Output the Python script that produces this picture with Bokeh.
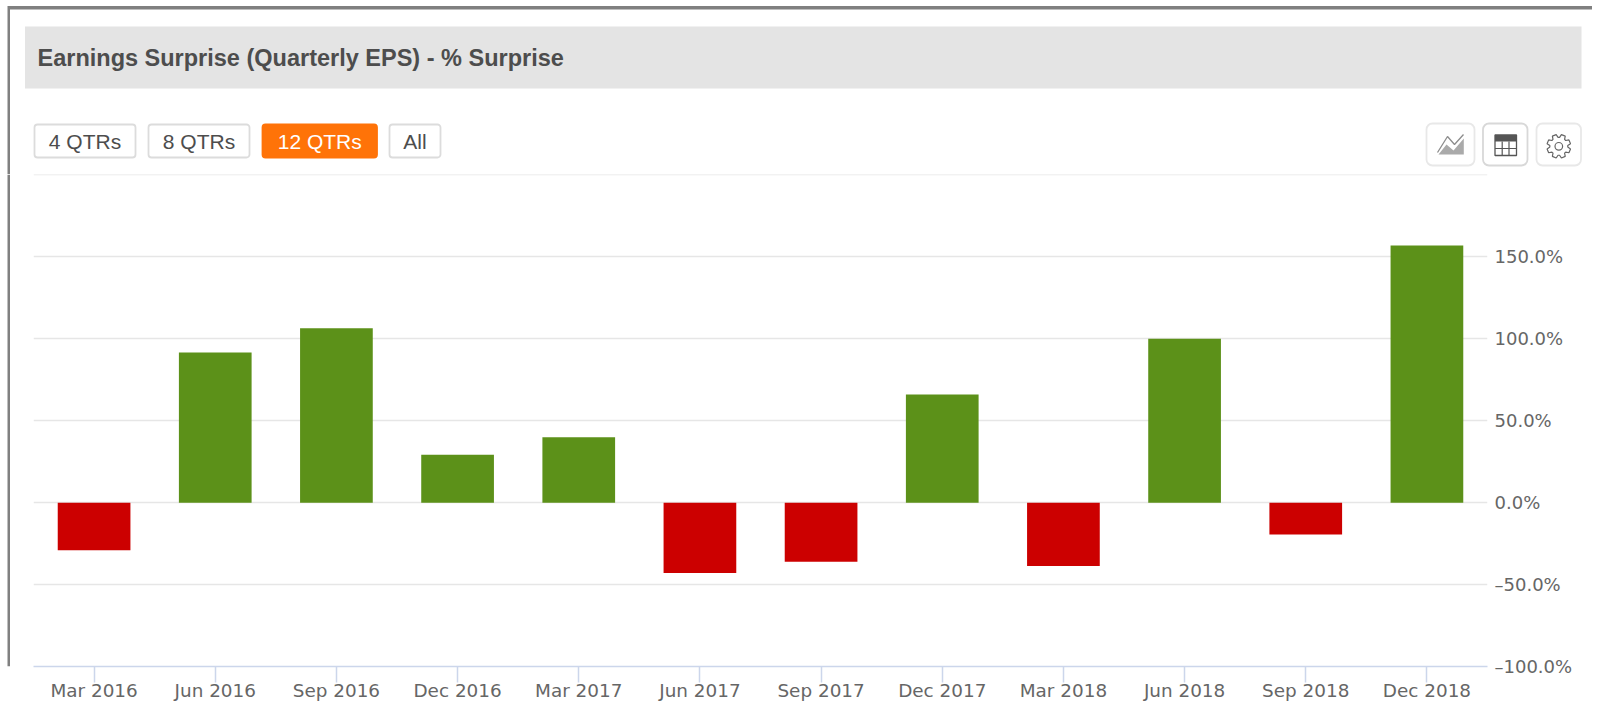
import math
from bokeh.plotting import figure
from bokeh.core.properties import value
from bokeh.layouts import column, row
from bokeh.models import FactorRange, Range1d, FixedTicker, ColumnDataSource
from bokeh.embed import file_html
from bokeh.resources import INLINE

quarters = ["Mar 2016", "Jun 2016", "Sep 2016", "Dec 2016", "Mar 2017", "Jun 2017",
            "Sep 2017", "Dec 2017", "Mar 2018", "Jun 2018", "Sep 2018", "Dec 2018"]
surprise = [-29, 91.6, 106.5, 29.3, 40, -43, -36, 66, -38.6, 100, -19.5, 157]
y_ticks = [-100, -50, 0, 50, 100, 150, 200]
y_labels = ["\u2013100.0%", "\u201350.0%", "0.0%", "50.0%", "100.0%", "150.0%", ""]
title_text = "Earnings Surprise (Quarterly EPS) - % Surprise"
buttons = ["4 QTRs", "8 QTRs", "12 QTRs", "All"]

GREEN, RED = "#5c9119", "#cc0000"
colors = [GREEN if v >= 0 else RED for v in surprise]
source = ColumnDataSource(dict(q=quarters, v=surprise, c=colors))

W, H, HEAD, STRIP = 1592, 712, 174, 10


def panel(w, h, y_top, y_bottom):
    f = figure(width=w, height=h, output_backend="svg", toolbar_location=None,
               x_range=Range1d(0, w), y_range=Range1d(y_bottom, y_top),
               x_axis_location=None, y_axis_location=None, min_border=0,
               outline_line_color=None, background_fill_color="white", border_fill_color="white")
    f.grid.visible = False
    return f


# chart
p = figure(width=W - STRIP, height=H - HEAD, output_backend="svg", toolbar_location=None,
           x_range=FactorRange(factors=quarters, range_padding=0),
           y_range=Range1d(-100, 200.3), x_axis_location="below", y_axis_location="right",
           min_border_left=33 - STRIP, min_border_right=W - 1487, min_border_top=0, min_border_bottom=46,
           outline_line_color=None, background_fill_color="white", border_fill_color="white")
p.vbar(x="q", top="v", bottom=0, width=0.6, color="c", source=source, line_color=None)

p.xgrid.visible = False
p.ygrid.grid_line_color = "#e6e6e6"
p.ygrid.grid_line_width = 1.5
p.ygrid.ticker = FixedTicker(ticks=y_ticks)

xa = p.xaxis[0]
xa.axis_line_color = "#ccd6eb"
xa.axis_line_width = 1.5
xa.major_tick_line_color = "#ccd6eb"
xa.major_tick_line_width = 1.5
xa.major_tick_out = 16
xa.major_tick_in = 0
xa.major_label_standoff = -3
xa.major_label_text_font = "DejaVu Sans"
xa.major_label_text_font_size = "18.4px"
xa.major_label_text_color = "#666666"
xa.major_label_orientation = "horizontal"

ya = p.yaxis[0]
ya.ticker = FixedTicker(ticks=y_ticks)
ya.major_label_overrides = dict(zip(y_ticks, y_labels))
ya.axis_line_color = None
ya.major_tick_line_color = None
ya.major_tick_out = 0
ya.major_tick_in = 0
ya.major_label_standoff = 7
ya.major_label_text_font = "DejaVu Sans"
ya.major_label_text_font_size = "18px"
ya.major_label_text_color = "#666666"

# header panel, in page pixels
h = panel(W, HEAD, 0, HEAD)


def box(l, t, r, b, fill="white", line=None, lw=1, radius=0):
    h.quad(left=l, right=r, top=t, bottom=b, fill_color=fill, line_color=line, line_width=lw,
           border_radius=radius)


def text(x, y, s, size, color, font="Liberation Sans", style="normal", align="left"):
    h.text(x=[x], y=[y], text=[s], text_font=value(font), text_font_size=f"{size}px", text_color=color,
           text_font_style=style, text_align=align, text_baseline="middle")


box(8, 5.5, 1592, 9, fill="#808080")
box(7, 5.5, 9.5, HEAD, fill="#808080")

box(24.5, 26, 1581, 88, fill="#e4e4e4")
text(37, 57, title_text, 23.5, "#4d4d4d", style="bold")

spans = [(34, 135), (148, 249), (262, 376.5), (389, 440)]
for (l, r), s in zip(spans, buttons):
    active = s == "12 QTRs"
    box(l, 124, r, 157, fill="#ff7308" if active else "white",
        line="#ff7308" if active else "#dcdcdc", lw=1.8, radius=3)
    text((l + r) / 2, 141, s, 21, "white" if active else "#4d4d4d", align="center")

box(1426, 123, 1474, 165, line="#e8e8e8", lw=1.8, radius=6)
box(1482.5, 123, 1527, 165, line="#d8d8d8", lw=1.8, radius=6)
box(1536, 123, 1580.5, 165, line="#e8e8e8", lw=1.8, radius=6)

# area-chart icon
h.patch([1438, 1446, 1453, 1463.3, 1463.3], [154, 144, 150, 138, 154], fill_color="#aaaaaa", line_color=None)
h.line([1437, 1447, 1454, 1463], [152, 136, 144, 134], line_color="#8c8c8c", line_width=1.3)

# table icon
box(1494.5, 134.5, 1516, 155, line="#555555", lw=1.3)
box(1494.5, 134.5, 1516, 141, fill="#555555")
for gx in (1501.7, 1508.5):
    box(gx - 0.6, 141, gx + 0.6, 155, fill="#555555")
box(1494.5, 147.4, 1516, 148.6, fill="#555555")

# gear icon
cx, cy, teeth = 1558.3, 145.8, 8
gx_pts, gy_pts = [], []
step = 2 * math.pi / teeth
for i in range(teeth + 1):
    a = step * i + step / 2
    for da, rad in ((-0.30, 9), (-0.17, 12), (0.17, 12), (0.30, 9)):
        ang = a + da * step * 1.3
        gx_pts.append(cx + rad * math.cos(ang))
        gy_pts.append(cy + rad * math.sin(ang))
h.line(gx_pts, gy_pts, line_color="#666666", line_width=1.2)
h.circle(x=[cx], y=[cy], radius=3.8, fill_color=None, line_color="#666666", line_width=1.2)

# left edge of the page frame, beside the chart
s = panel(STRIP, H - HEAD, 0, H - HEAD)
s.quad(left=7, right=9.5, top=0, bottom=H - HEAD, fill_color="#808080", line_color=None)

layout = column(h, row(s, p, spacing=0), spacing=0)
open("out.html", "w").write(file_html(layout, INLINE))
